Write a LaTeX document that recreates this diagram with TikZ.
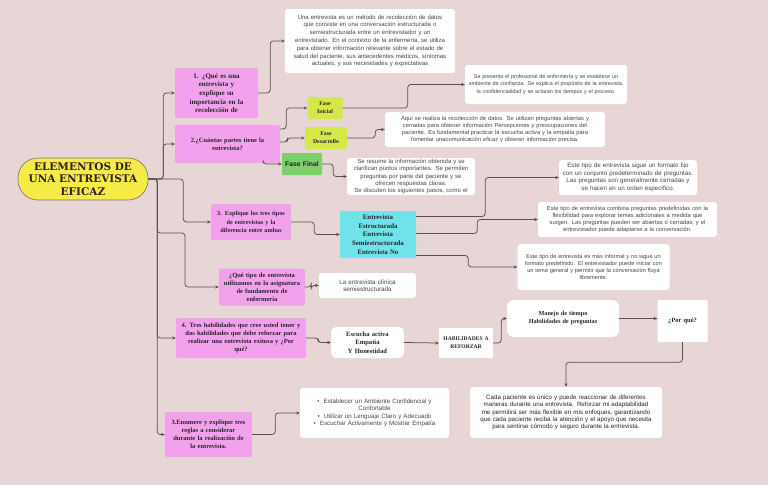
\documentclass[tikz,border=0pt]{standalone}
\usepackage{fontspec}
\setmainfont{Liberation Serif}
\setsansfont{Liberation Sans}
\newfontfamily\titlefont{DejaVu Serif}
\usetikzlibrary{arrows.meta,positioning}
\definecolor{fondo}{RGB}{232,214,214}
\definecolor{rosa}{RGB}{242,162,236}
\definecolor{amarillo}{RGB}{247,235,72}
\definecolor{lima}{RGB}{212,232,74}
\definecolor{verde}{RGB}{124,210,106}
\definecolor{cian}{RGB}{112,227,234}
\definecolor{tinta}{RGB}{40,36,40}
\definecolor{gristexto}{RGB}{70,70,70}
\definecolor{linea}{RGB}{85,80,82}
\newcommand{\fsz}[2]{\fontsize{#1}{#2}\selectfont}

\begin{document}
\begin{tikzpicture}[x=1pt,y=-1pt,
  titulo/.style={fill=amarillo, draw=black!55, line width=0.6pt, rounded corners=20pt,
    minimum width=130pt, minimum height=42pt, align=center, text=tinta,
    font=\titlefont\bfseries\fsz{10.5}{12.5}},
  pregunta/.style={fill=rosa, rounded corners=1.5pt, align=center, inner xsep=2pt,
    inner ysep=1pt, text=tinta, font=\bfseries\fsz{6.5}{8}},
  nota/.style={fill=white, rounded corners=3pt, align=center, inner xsep=2pt,
    inner ysep=1pt, text=gristexto, font=\sffamily},
  fase/.style={fill=lima, rounded corners=1pt, align=center, inner xsep=2pt,
    inner ysep=1pt, text=tinta, font=\bfseries\fsz{5.8}{7.8}},
  enlace/.style={draw=linea, line width=0.75pt, rounded corners=3pt,
    -{Stealth[length=3.6pt,width=3.2pt]}}]
% fondo
\fill[fondo] (0,0) rectangle (768,485);
\useasboundingbox (0,0) rectangle (768,485);

% tema central
\node[titulo] (titulo) at (83,179) {ELEMENTOS DE\\UNA ENTREVISTA\\EFICAZ};

% preguntas (rosa)
\node[pregunta, text width=79pt, minimum height=50pt, font=\bfseries\fsz{7}{8.6}] (q1) at (216.5,93)
  {1. ¿Qué es una\\entrevista y\\explique su\\importancia en la\\recolección de};
\node[pregunta, text width=101pt, minimum height=38pt] (q2) at (227.5,144)
  {2.¿Cuántas partes tiene la\\entrevista?};
\node[pregunta, text width=76pt, minimum height=36pt, font=\bfseries\fsz{6.2}{8.5}] (q3) at (251,222)
  {3. Explique los tres tipos\\de entrevistas y la\\diferencia entre ambas};
\node[pregunta, text width=82pt, minimum height=37pt] (q4) at (262,287)
  {¿Qué tipo de entrevista\\utilizamos en la asignatura\\de fundamento de\\enfermería};
\node[pregunta, text width=126pt, minimum height=40pt] (q5) at (241,338)
  {4. Tres habilidades que cree usted tener y\\dos habilidades que debe reforzar para\\realizar una entrevista exitosa y ¿Por\\qué?};
\node[pregunta, text width=83pt, minimum height=45pt] (q6) at (208.5,434.5)
  {3.Enumere y explique tres\\reglas a considerar\\durante la realización de\\la entrevista.};

% pregunta 1
\node[nota, text width=166pt, minimum height=64pt, font=\sffamily\fsz{6}{7.8}] (definicion) at (370,41)
  {Una entrevista es un método de recolección de datos\\que consiste en una conversación estructurada o\\semiestructurada entre un entrevistador y un\\entrevistado. En el contexto de la enfermería, se utiliza\\para obtener información relevante sobre el estado de\\salud del paciente, sus antecedentes médicos, síntomas\\actuales, y sus necesidades y expectativas};

% pregunta 2: fases
\node[fase, text width=31pt, minimum height=22pt] (fini) at (325,108) {Fase\\Inicial};
\node[fase, text width=38pt, minimum height=22pt] (fdes) at (326,138) {Fase\\Desarrollo};
\node[fase, fill=verde, text width=36pt, minimum height=22pt, font=\sffamily\bfseries\fsz{6.8}{8}] (ffin) at (302,164) {Fase Final};
\node[nota, text width=158pt, minimum height=39pt, font=\sffamily\fsz{5.4}{7.2}] (tinicial) at (546,84.5)
  {Se presenta el profesional de enfermería y se establece un\\ambiente de confianza. Se explica el propósito de la entrevista,\\la confidencialidad y se aclaran los tiempos y el proceso.};
\node[nota, text width=216pt, minimum height=35pt, font=\sffamily\fsz{5.8}{7}] (tdesarrollo) at (495,129.5)
  {Aquí se realiza la recolección de datos. Se utilizan preguntas abiertas y\\cerradas para obtener información Percepciones y preocupaciones del\\paciente. Es fundamental practicar la escucha activa y la empatía para\\fomentar unacomunicación eficaz y obtener información precisa.};
\node[nota, text width=124pt, minimum height=37pt, font=\sffamily\fsz{6}{7.2}] (tfinal) at (411,176.5)
  {Se resume la información obtenida y se\\clarifican puntos importantes. Se permiten\\preguntas por parte del paciente y se\\ofrecen respuestas claras.\\Se discuten los siguientes pasos, como el};

% pregunta 3: tipos
\node[pregunta, fill=cian, text width=72pt, minimum height=47pt, font=\bfseries\fsz{6.8}{8.6}] (tipos) at (378,234.5)
  {Entrevista\\Estructurada\\Entrevista\\Semiestructurada\\Entrevista No};
\node[nota, text width=134pt, minimum height=35pt, font=\sffamily\fsz{6.2}{7.5}] (testructurada) at (628,177.5)
  {Este tipo de entrevista sigue un formato fijo\\con un conjunto predeterminado de preguntas.\\Las preguntas son generalmente cerradas y\\se hacen en un orden específico.};
\node[nota, text width=175pt, minimum height=35pt, font=\sffamily\fsz{5.8}{7}] (tsemi) at (627.5,219.5)
  {Este tipo de entrevista combina preguntas predefinidas con la\\flexibilidad para explorar temas adicionales a medida que\\surgen. Las preguntas pueden ser abiertas o cerradas, y el\\entrevistador puede adaptarse a la conversación.};
\node[nota, text width=148pt, minimum height=46pt, font=\sffamily\fsz{5.6}{7}] (tno) at (593.5,267)
  {Este tipo de entrevista es más informal y no sigue un\\formato predefinido. El entrevistador puede iniciar con\\un tema general y permitir que la conversación fluya\\libremente.};

% pregunta 4 (asignatura)
\node[nota, text width=93pt, minimum height=25pt, font=\sffamily\fsz{6.3}{7.5}] (clinica) at (367.5,285.5)
  {La entrevista clínica\\semiestructurada};

% habilidades
\node[nota, text=tinta, rounded corners=5pt, text width=69pt, minimum height=31pt, font=\bfseries\fsz{6.6}{8.3}] (fuertes) at (367.5,342.5)
  {Escucha activa\\Empatía\\Y Honestidad};
\node[nota, text=tinta, rounded corners=1pt, text width=50pt, minimum height=30pt, font=\bfseries\fsz{5.6}{8}] (reforzar) at (466,343)
  {HABILIDADES A\\REFORZAR};
\node[nota, text=tinta, rounded corners=7pt, text width=108pt, minimum height=37pt, font=\bfseries\fsz{6.2}{8}] (manejo) at (563,318.5)
  {Manejo de tiempo\\Habilidades de preguntas};
\node[nota, text=tinta, rounded corners=1pt, text width=46pt, minimum height=42pt, font=\bfseries\fsz{6.5}{8}] (porque) at (682.5,321)
  {¿Por qué?};
\node[nota, text=tinta, text width=188pt, minimum height=51pt, font=\sffamily\fsz{6.2}{7.4}] (cada) at (566,412.5)
  {Cada paciente es único y puede reaccionar de diferentes\\maneras durante una entrevista. Reforzar mi adaptabilidad\\me permitirá ser más flexible en mis enfoques, garantizando\\que cada paciente reciba la atención y el apoyo que necesita\\para sentirse cómodo y seguro durante la entrevista.};

% reglas
\node[nota, text width=145pt, minimum height=50pt, font=\sffamily\fsz{6.2}{7.3}] (reglas) at (374.5,413)
  {•~~Establecer un Ambiente Confidencial y\\Confortable\\•~~Utilizar un Lenguaje Claro y Adecuado\\•~~Escuchar Activamente y Mostrar Empatía};

% ramas del tema central
\draw[enlace] (titulo.east) -- ++(15,0) |- (q1.west);
\draw[enlace] (titulo.east) -- ++(15,0) |- (q2.west);
\draw[enlace] (titulo.east) -- ++(35,0) |- (q3.west);
\draw[enlace] (titulo.east) -- ++(9,0) |- (185,233) |- (q4.west);
\draw[enlace] (titulo.east) -- ++(9,0) |- (q5.west);
\draw[enlace] (titulo.east) -- ++(9,0) |- (q6.west);

% conectores de cada pregunta
\draw[enlace] (q1.east) -- ++(12,0) |- (definicion.west);
\draw[enlace] ([yshift=15pt]q2.east) -- ++(6,0) |- (fini.west);
\draw[enlace] ([yshift=2pt]q2.east) -- ++(7,0) |- (fdes.west);
\draw[enlace] ([xshift=-17pt]q2.south east) |- (ffin.west);
\draw[enlace] (fini.east) -- ++(65,0) |- (tinicial.west);
\draw[enlace] (fdes.east) -- ++(28,0) |- (tdesarrollo.west);
\draw[enlace] (ffin.east) -- ++(11,0) |- (tfinal.west);
\draw[enlace] (q3.east) -- ++(23,0) |- (tipos.west);
\draw[enlace] ([yshift=18pt]tipos.east) -- ++(69,0) |- (testructurada.west);
\draw[enlace] ([yshift=1pt]tipos.east) -- ++(61,0) |- (tsemi.west);
\draw[enlace] ([yshift=-21pt]tipos.east) -- ++(52,0) |- (tno.west);
\draw[enlace] (q4.east) -- ++(6,0) |- (clinica.west);
\draw[enlace] (q5.east) -- ++(12,0) |- (fuertes.west);
\draw[enlace] (fuertes.east) -- (reforzar.west);
\draw[enlace] (reforzar.east) -- ++(8,0) |- (manejo.west);
\draw[enlace] (manejo.east) -- (manejo.east -| porque.west);
\draw[enlace] (porque.south) -- ++(0,20) -| (cada.north);
\draw[enlace] (q6.east) -- ++(23,0) |- (reglas.west);
\end{tikzpicture}
\end{document}
